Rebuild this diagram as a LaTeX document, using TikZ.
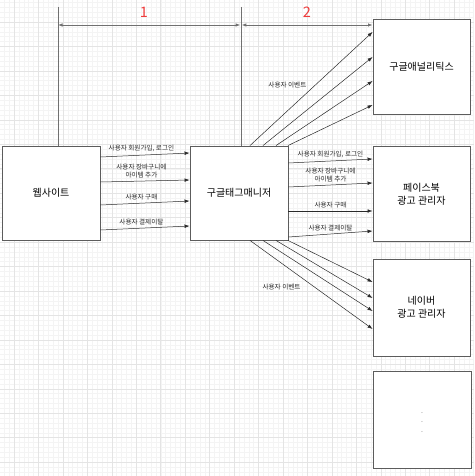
\documentclass[tikz,border=0pt]{standalone}
\usepackage{fontspec}
\setmainfont{Noto Sans CJK KR}
\usetikzlibrary{calc, arrows.meta}
\definecolor{cgrid}{HTML}{F4F4F4}
\definecolor{cgridmaj}{HTML}{E4E4E4}
\definecolor{cbox}{HTML}{5C5C5C}
\definecolor{cline}{HTML}{2A2A2A}
\definecolor{cdim}{HTML}{707070}
\definecolor{cred}{HTML}{EE3B3B}

\begin{document}
\begin{tikzpicture}[x=1pt, y=-1pt,
    box/.style={draw=cbox, line width=0.9pt, fill=white, minimum width=97pt, minimum height=95pt, inner sep=0pt, align=center, font=\fontsize{10}{13}\selectfont},
    lbl/.style={inner sep=1pt, align=center, font=\fontsize{6.6}{7.9}\selectfont\color{cline}},
    flow/.style={draw=cline, line width=0.5pt, -{Latex[length=5pt, width=3.6pt]}},
    dimarr/.style={draw=cdim, line width=0.7pt, {Latex[length=4.5pt, width=3.4pt]}-{Latex[length=4.5pt, width=3.4pt]}}]
    \useasboundingbox (0,0) rectangle (474,476);
    \begin{scope}
        \clip (0,0) rectangle (474,476);
        \foreach \i in {0,...,97} {
            \draw[cgrid, line width=0.4pt] (4.22+\i*4.89,0) -- ++(0,476);
            \draw[cgrid, line width=0.4pt] (0,2.44+\i*4.89) -- ++(474,0);
        }
        \foreach \i in {0,...,19} {
            \draw[cgridmaj, line width=0.5pt] (14+\i*24.45,0) -- ++(0,476);
            \draw[cgridmaj, line width=0.5pt] (0,22+\i*24.45) -- ++(474,0);
        }
    \end{scope}

    \node (web) [box, minimum width=98pt, minimum height=94pt] at (51,193) {웹사이트};
    \node (gtm) [box, minimum width=98pt, minimum height=94pt] at (239,193) {구글태그매니저};
    \node (ga) [box] at (421.5,67) {구글애널리틱스};
    \node (fb) [box] at (421.5,194) {페이스북\\광고 관리자};
    \node (nv) [box, minimum height=97pt] at (421.5,307.5) {네이버\\광고 관리자};
    \node (etc) [box, minimum width=98pt, minimum height=97pt] at (422,419.5) {};
    \node (dots) [inner sep=0pt, align=center, font=\fontsize{7}{9.5}\selectfont\color{cbox}] at ([yshift=-3pt]etc.center) {.\\.\\.};

    \coordinate (d1) at (58,7);
    \coordinate (d2) at (241,7);
    \coordinate (a1) at (58,25);
    \draw[cdim, line width=0.7pt] (d1) -- (d1 |- web.north);
    \draw[cdim, line width=0.7pt] (d2) -- (d2 |- gtm.north);
    \draw[dimarr, shorten >=0.8pt] (a1) -- node[pos=0.47, above=7pt, inner sep=0pt, font=\fontsize{14.5}{16}\selectfont\color{cred}] {1} (a1 -| d2);
    \draw[dimarr, shorten <=0.8pt] (a1 -| d2) -- node[above=7pt, inner sep=0pt, font=\fontsize{14.5}{16}\selectfont\color{cred}] {2} (a1 -| ga.west);

    \draw[flow] ([yshift=36pt]web.east) -- node[lbl, pos=0.46, above=2pt] {사용자 회원가입, 로그인} ([yshift=40pt]gtm.west);
    \draw[flow] ([yshift=11pt]web.east) -- node[lbl, pos=0.46, above=2pt] {사용자 장바구니에\\아이템 추가} ([yshift=13pt]gtm.west);
    \draw[flow] ([yshift=-12pt]web.east) -- node[lbl, pos=0.46, above=2pt] {사용자 구매} ([yshift=-8pt]gtm.west);
    \draw[flow] ([yshift=-37pt]web.east) -- node[lbl, pos=0.46, above=2pt] {사용자 결제이탈} ([yshift=-33pt]gtm.west);

    \draw[flow] ([yshift=30pt]gtm.east) -- node[lbl, above=2pt] {사용자 회원가입, 로그인} ([yshift=35pt]fb.west);
    \draw[flow] ([yshift=6pt]gtm.east) -- node[lbl, above=2pt] {사용자 장바구니에\\아이템 추가} ([yshift=11pt]fb.west);
    \draw[flow] ([yshift=-18pt]gtm.east) -- node[lbl, above=2pt] {사용자 구매} ([yshift=-17pt]fb.west);
    \draw[flow] ([yshift=-44pt]gtm.east) -- node[lbl, above=2pt] {사용자 결제이탈} ([yshift=-37pt]fb.west);

    \foreach \dx/\dy in {11/35, 24/10, 37/-14, 49/-38}
        \draw[flow] ([xshift=\dx pt]gtm.north) -- ([yshift=\dy pt]ga.west);
    \path ([xshift=11pt]gtm.north) -- node[lbl, pos=0.535, left=8pt] {사용자 이벤트} ([yshift=35pt]ga.west);

    \foreach \dx/\dy in {11/-21.5, 24/-3.5, 37/9.5, 49/25.5}
        \draw[flow] ([xshift=\dx pt]gtm.south) -- ([yshift=\dy pt]nv.west);
    \path ([xshift=11pt]gtm.south) -- node[lbl, pos=0.528, left=13pt] {사용자 이벤트} ([yshift=-21.5pt]nv.west);
\end{tikzpicture}
\end{document}
